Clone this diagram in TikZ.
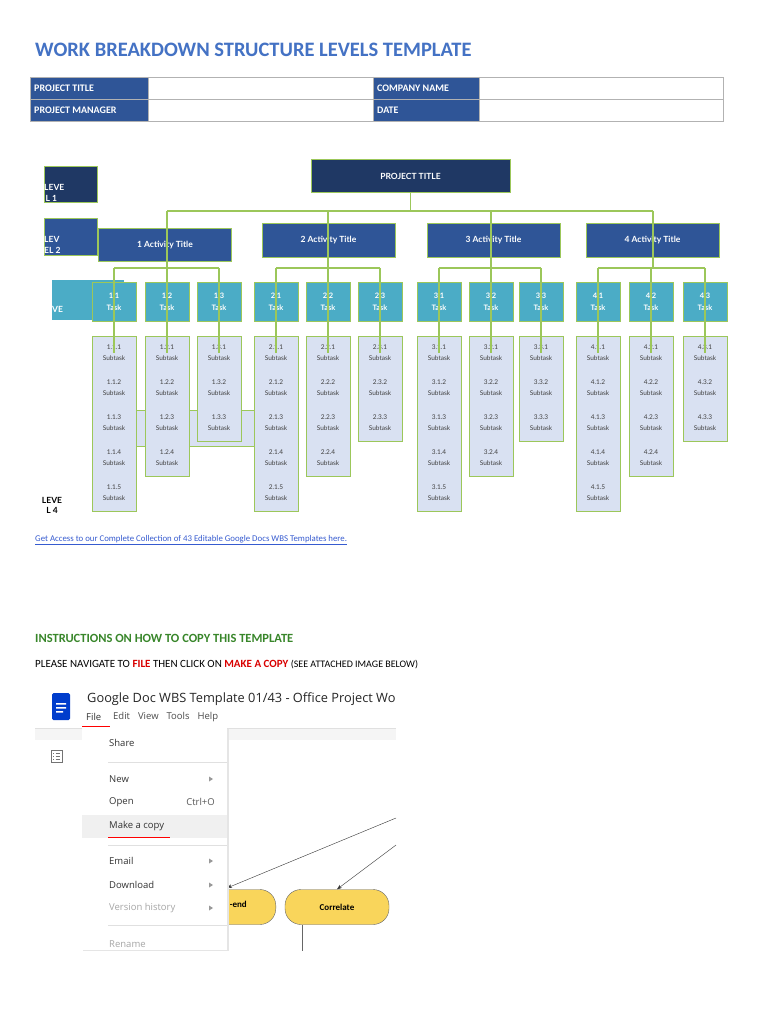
\documentclass[tikz,border=0pt]{standalone}
\usepackage{fontspec}
\setmainfont{Carlito}
\newfontfamily\chartfont{Lato}
\newfontfamily\uifont{Open Sans}
\usetikzlibrary{arrows.meta}
\definecolor{navy}{HTML}{1F3864}
\definecolor{actblue}{HTML}{2F5597}
\definecolor{teal}{HTML}{4BACC6}
\definecolor{subfill}{HTML}{D9E1F2}
\definecolor{lgreen}{HTML}{9CC75A}
\definecolor{ttlblue}{HTML}{4472C4}
\definecolor{instgreen}{HTML}{38862A}
\definecolor{gyel}{HTML}{F9D55B}
\tikzset{
  conn/.style={draw=lgreen,line width=1.3pt},
  gbox/.style={draw=lgreen,line width=1pt,minimum width=#1,inner sep=0pt},
  lvl/.style={gbox=53pt,minimum height=36pt,text=white,font=\chartfont\bfseries\fontsize{8.5}{9}\selectfont,align=left,text width=53pt},
  actbox/.style={gbox=133pt,minimum height=33pt,fill=actblue,text=white,font=\chartfont\bfseries\fontsize{8.5}{10}\selectfont},
  taskbox/.style={gbox=44pt,minimum height=39pt,fill=teal,text=white,font=\chartfont\bfseries\fontsize{7.5}{12}\selectfont,align=center},
  subtxt/.style={font=\chartfont\fontsize{6.5}{11}\selectfont,text=black!75,align=center},
  tlabel/.style={text=white,font=\bfseries\fontsize{10}{10}\selectfont,anchor=west,inner sep=4pt},
  tcell/.style={draw=black!30},
  menu/.style={font=\uifont\fontsize{9.5}{10}\selectfont,text=black!80,anchor=west,inner sep=0pt},
}
\begin{document}
\begin{tikzpicture}[x=1pt,y=-1pt]
\useasboundingbox (0,0) rectangle (768,1024);
\fill[white] (0,0) rectangle (768,1024);
% title
\node[anchor=west,text=ttlblue,font=\bfseries\fontsize{20.5}{21}\selectfont,inner sep=0pt] (title) at (35,50) {WORK BREAKDOWN STRUCTURE LEVELS TEMPLATE};
% table
\fill[actblue] (30,77) rectangle (148,121);
\fill[actblue] (373,77) rectangle (479,121);
\draw[tcell] (30,77) rectangle (723,121);
\draw[tcell] (30,99) -- (723,99);
\draw[tcell] (148,77) -- (148,121) (373,77) -- (373,121) (479,77) -- (479,121);
\node[tlabel] (pt1) at (30,88) {PROJECT TITLE};
\node[tlabel] (pm1) at (30,110) {PROJECT MANAGER};
\node[tlabel] (cn1) at (373,88) {COMPANY NAME};
\node[tlabel] (dt1) at (373,110) {DATE};
% level boxes
\node[lvl,fill=navy] (l1) at (70.5,185) {};
\node[text=white,font=\chartfont\bfseries\fontsize{8.5}{11}\selectfont,align=left,anchor=west,inner sep=0pt] (l1t) at (44,193) {LEVE\\\,L 1};
\node[lvl,fill=actblue] (l2) at (70.5,237) {};
\node[text=white,font=\chartfont\bfseries\fontsize{8.5}{11}\selectfont,align=left,anchor=west,inner sep=0pt] (l2t) at (44,245) {LEV\\EL 2};
\node[minimum width=72pt,minimum height=40pt,fill=teal,anchor=north west] (l3) at (52,280) {};
\node[text=white,font=\chartfont\bfseries\fontsize{8.5}{9}\selectfont,anchor=west,inner sep=0pt] (l3t) at (52,309) {VE};
\node[font=\chartfont\bfseries\fontsize{8.5}{10}\selectfont,align=center] (l4) at (52,505) {LEVE\\L 4};
% project title
\node[gbox=199pt,minimum height=33pt,fill=navy,text=white,font=\chartfont\bfseries\fontsize{8.5}{10}\selectfont] (proj) at (410.5,176.5) {PROJECT TITLE};
% stray rectangle behind columns
\draw[fill=subfill,draw=lgreen,line width=1pt] (120,410) rectangle (262,446);
% groups
\foreach \g/\ax/\ay/\lx/\ta/\tb/\tc in {1/165/245/167/114/167/219, 2/328.5/240.5/328/276/328/380, 3/493.5/240.5/491/439/491/541, 4/652.5/240.5/653/598/651/705}{
  \node[actbox] (act\g) at (\ax,\ay) {\g\ Activity Title};
  \foreach \t/\tx/\n in {1/\ta/5, 2/\tb/4, 3/\tc/3}{
    \node[taskbox] (task\g\t) at (\tx,301.5) {\g.\t\\Task};
    \node[gbox=44pt,minimum height=\n*35pt,fill=subfill,anchor=north] (col\g\t) at (\tx,336) {};
    \foreach \k in {1,...,\n}{
      \node[subtxt] (sub\g\t\k) at (\tx,336+17+35*\k-35) {\g.\t.\k\\Subtask};
    }
  }
}
% connectors
\coordinate (busL) at (167,211);
\coordinate (busR) at (653,211);
\draw[conn] (proj.south) -- (proj.south|-busL);
\draw[conn] (busL) -- (busR);
\foreach \g/\lx/\ta/\tc in {1/167/114/219, 2/328/276/380, 3/491/439/541, 4/653/598/705}{
  \draw[conn] (\lx,211) -- (\lx,268);
  \draw[conn] (\ta,268) -- (\tc,268);
  \foreach \t in {1,2,3}{
    \draw[conn] (task\g\t.north|-0,268) -- (sub\g\t1.center);
  }
}
% link
\node[anchor=west,inner sep=0pt,text=ttlblue!80!blue,font=\fontsize{8.8}{10}\selectfont] (link) at (35,540) {\underline{Get Access to our Complete Collection of 43 Editable Google Docs WBS Templates here.}};
% instructions
\node[anchor=west,inner sep=0pt,text=instgreen,font=\bfseries\fontsize{12.5}{13}\selectfont] (inst) at (35,638) {INSTRUCTIONS ON HOW TO COPY THIS TEMPLATE};
\node[anchor=west,inner sep=0pt,font=\fontsize{11}{12}\selectfont] (nav) at (35,665) {PLEASE NAVIGATE TO \textcolor{red!85!black}{\bfseries FILE} THEN CLICK ON \textcolor{red!85!black}{\bfseries MAKE A COPY} {\fontsize{10}{10}\selectfont(SEE ATTACHED IMAGE BELOW)}};
% screenshot
\begin{scope}
\clip (35,685) rectangle (396,950);
\fill[black!4] (35,728) rectangle (396,740);
\draw[black!12] (35,728) -- (396,728);
% doc icon
\fill[blue!70!cyan!80!black,rounded corners=1.5pt] (52,693) rectangle (70,720);
\fill[white] (56,703) rectangle (66,704.5) (56,707) rectangle (66,708.5) (56,711) rectangle (63,712.5);
\node[anchor=west,inner sep=0pt,font=\uifont\fontsize{12.8}{14}\selectfont,text=black!85] (doct) at (87,699) {Google Doc WBS Template 01/43 - Office Project Wo};
\node[anchor=west,inner sep=0pt,font=\uifont\fontsize{9.5}{10}\selectfont,text=black!80] (mfile) at (86,717) {File};
\node[anchor=west,inner sep=0pt,font=\uifont\fontsize{9.5}{10}\selectfont,text=black!70] (medit) at (113,717) {Edit\hspace{8pt}View\hspace{8pt}Tools\hspace{8pt}Help};
\draw[red,line width=1pt] (82,726) -- (110,726);
% list icon
\draw[black!55,line width=0.6pt] (51,750) rectangle (62,762);
\foreach \yy in {753,756,759}{\draw[black!55,line width=0.6pt] (53,\yy) -- (54,\yy) (55.5,\yy) -- (60,\yy);}
% background flowchart
\node[draw=black!60,fill=gyel,rounded corners=16pt,minimum width=104pt,minimum height=35pt,font=\bfseries\fontsize{9}{10}\selectfont] (corr) at (337,907) {Correlate};
\node[draw=black!60,fill=gyel,rounded corners=16pt,minimum width=110pt,minimum height=35pt,anchor=east] (endb) at (276,907) {};
\node[font=\bfseries\fontsize{9}{10}\selectfont,anchor=east,inner sep=0pt] (endt) at (247,904) {-end};
\coordinate (src1) at (396,818);
\coordinate (src2) at (396,845);
\draw[-{Stealth[length=5pt]},black!80] (src1) -- (227,888);
\draw[-{Stealth[length=5pt]},black!80] (src2) -- (corr.north);
\draw[black!60] (302,925) -- (302,960);
% menu
\fill[black!10] (83,729) rectangle (229,952);
\fill[white] (82,728) rectangle (227,950);
\fill[black!6] (82,815) rectangle (227,838);
\draw[black!12] (108,762) -- (227,762) (108,845) -- (227,845) (108,925) -- (227,925);
\node[menu] (share) at (109,743) {Share};
\node[menu] (new) at (109,779) {New};
\node[menu] (open) at (109,802) {Open};
\node[menu,anchor=east,text=black!65] (ctrl) at (215,802) {Ctrl+O};
\node[menu] (mcopy) at (109,826) {Make a copy};
\draw[red,line width=1pt] (108,837) -- (170,837);
\node[menu] (email) at (109,861) {Email};
\node[menu] (down) at (109,885) {Download};
\node[menu,text=black!35] (vers) at (109,908) {Version history};
\node[menu,text=black!35] (ren) at (109,944) {Rename};
\foreach \yy in {779,861,885,908}{\fill[black!40] (209,\yy-2.5) -- (213,\yy) -- (209,\yy+2.5) -- cycle;}
\end{scope}
\end{tikzpicture}
\end{document}
